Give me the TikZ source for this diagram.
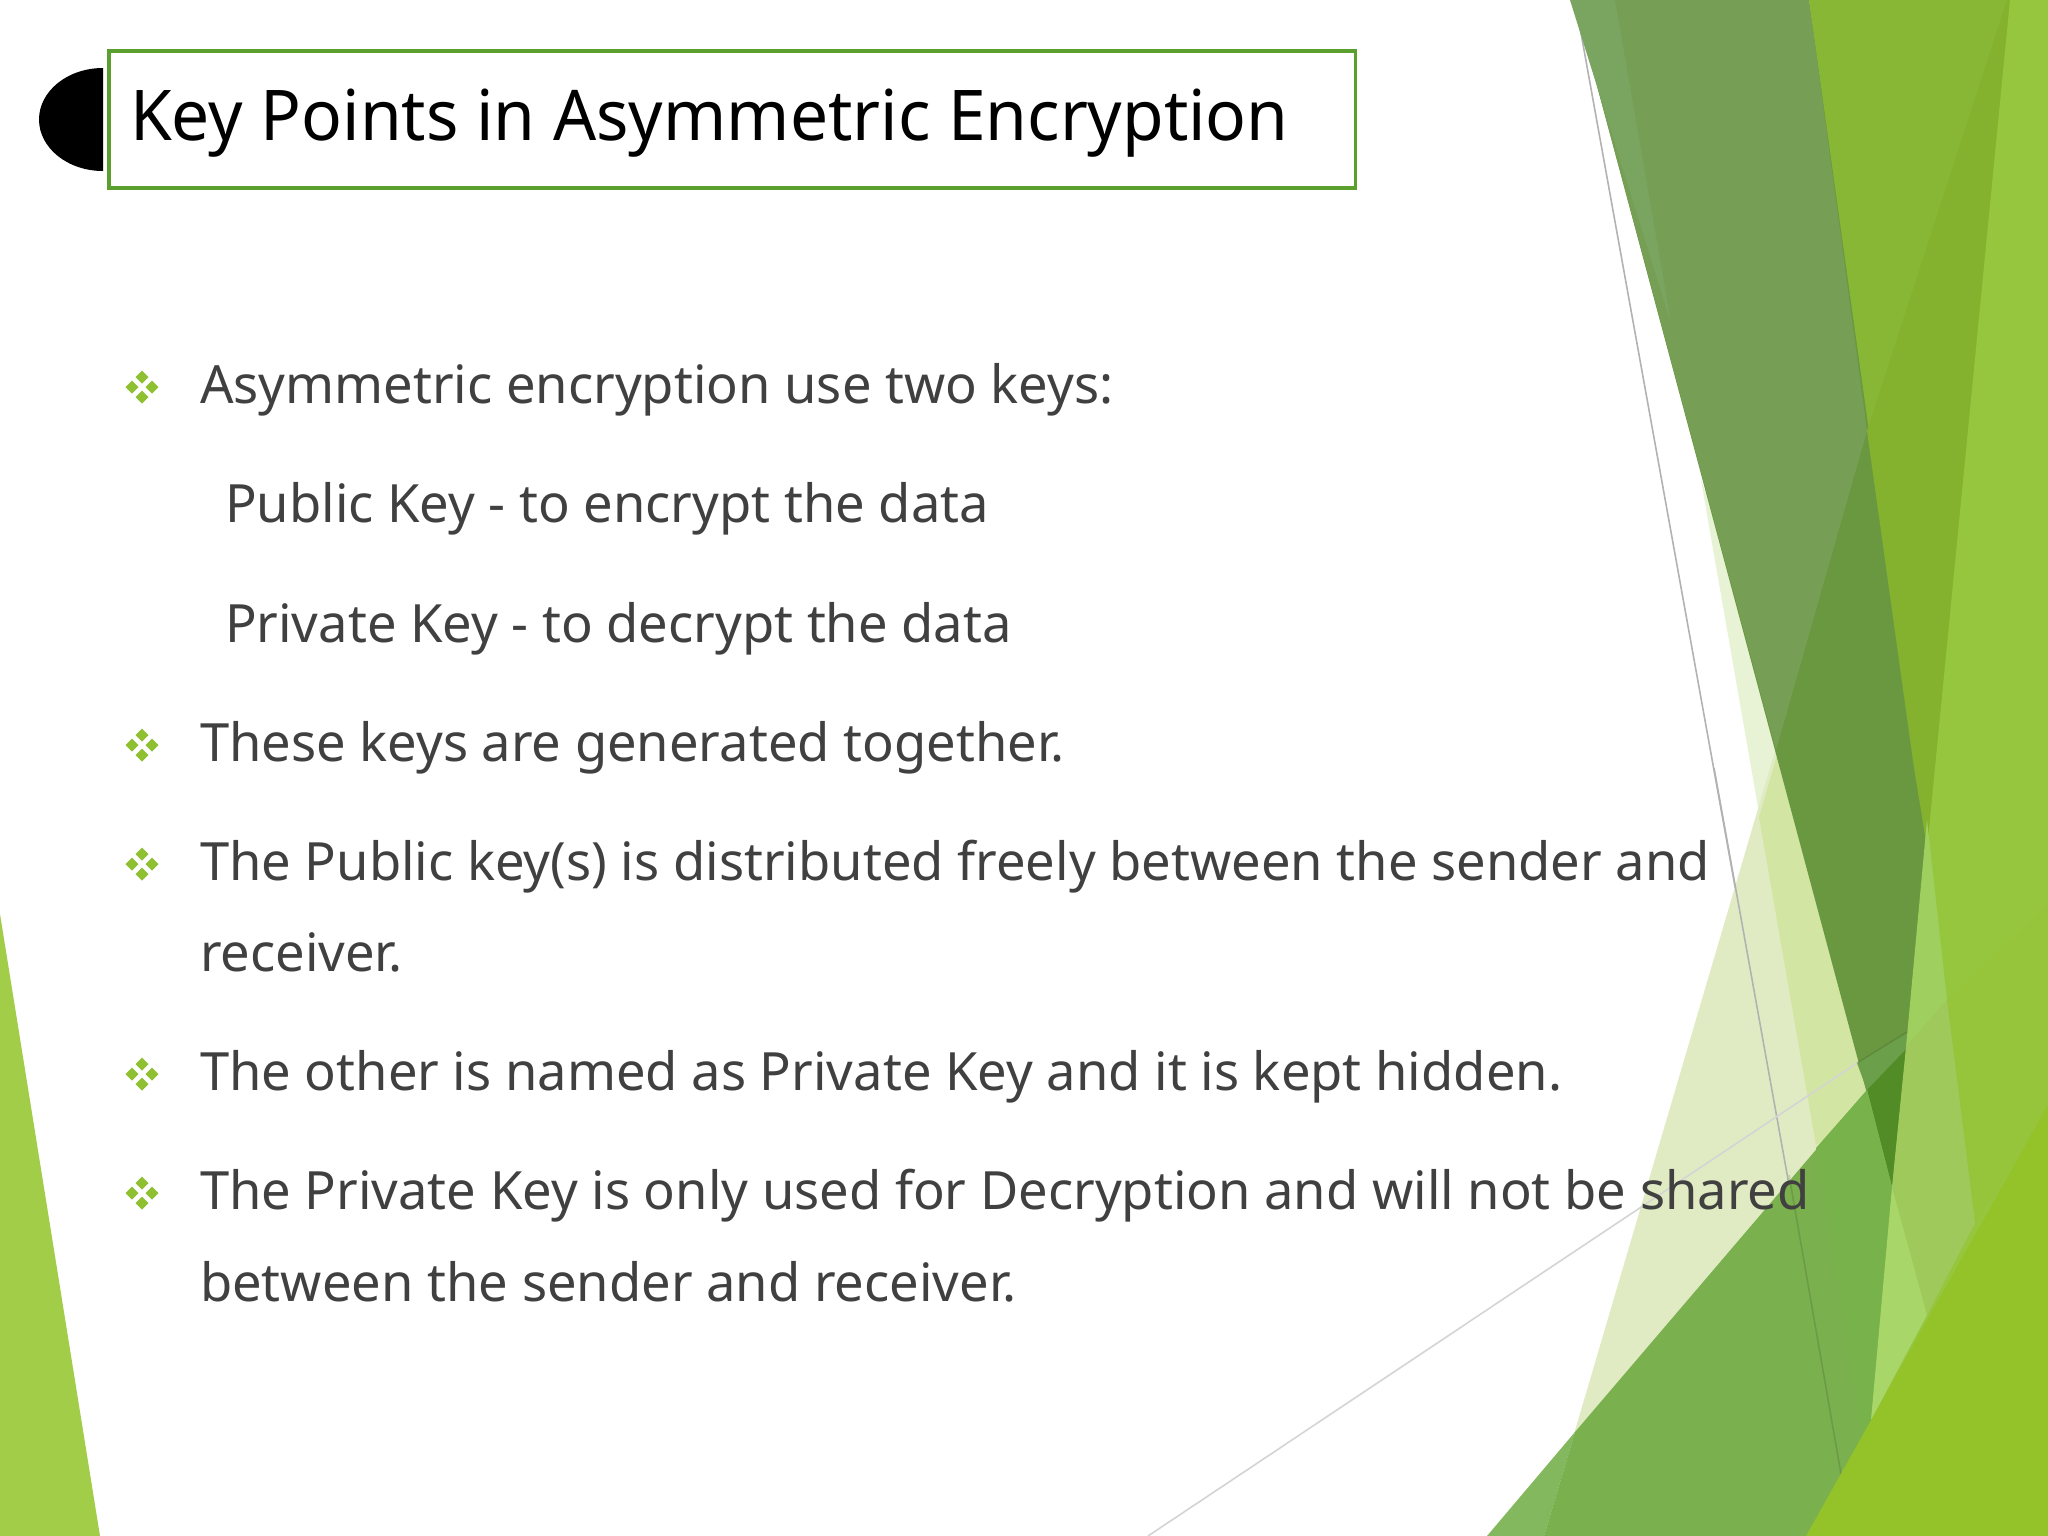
\documentclass[tikz,border=0pt]{standalone}
\usepackage{fontspec}
\setmainfont{Noto Sans}
\newfontfamily\bodyfont[FakeStretch=0.995]{Noto Sans}
\newfontfamily\titlefont[FakeStretch=0.967]{Noto Sans}
\definecolor{bodygrey}{HTML}{404040}
\definecolor{boxgreen}{HTML}{5B9F2F}
\definecolor{bul}{HTML}{8FC031}
\definecolor{leftgreen}{HTML}{A2CD48}
\definecolor{paleA}{HTML}{E8F2D5}
\definecolor{paleB}{HTML}{E0EBC3}
\definecolor{paleC}{HTML}{D2E5A3}
\definecolor{darkA}{HTML}{6A9840}
\definecolor{darkB}{HTML}{769F55}
\definecolor{darkC}{HTML}{7AA561}
\definecolor{darkD}{HTML}{6C9F4A}
\definecolor{darkest}{HTML}{518C27}
\definecolor{medA}{HTML}{88B735}
\definecolor{medB}{HTML}{84B22E}
\definecolor{greenA}{HTML}{84B85F}
\definecolor{greenB}{HTML}{7BB04F}
\definecolor{greenC}{HTML}{78B24B}
\definecolor{lightA}{HTML}{96C63E}
\definecolor{lightB}{HTML}{A0C95C}
\definecolor{lightC}{HTML}{A8D669}
\definecolor{lightD}{HTML}{96C43A}
\definecolor{lightE}{HTML}{9FCF5E}
\definecolor{brightA}{HTML}{93C229}
\tikzset{
  px/.style={x=0.01cm,y=-0.01cm},
  bodytext/.style={anchor=base west,inner sep=0,outer sep=0,text=bodygrey,font=\bodyfont\fontsize{15}{18}\selectfont},
  titletext/.style={anchor=base west,inner sep=0,outer sep=0,text=black,font=\titlefont\fontsize{19.9}{24}\selectfont},
  thinline/.style={line width=0.45pt},
}
\newcommand{\bulletmark}[2]{%
  \fill[bul] (#1,#2-16) ++(0,-16.5) -- ++(6.5,6.5) -- ++(-6.5,6.5) -- ++(-6.5,-6.5) -- cycle;
  \fill[bul] (#1,#2-16) ++(0,3.5) -- ++(6.5,6.5) -- ++(-6.5,6.5) -- ++(-6.5,-6.5) -- cycle;
  \fill[bul] (#1,#2-16) ++(-10,-6.5) -- ++(6.5,6.5) -- ++(-6.5,6.5) -- ++(-6.5,-6.5) -- cycle;
  \fill[bul] (#1,#2-16) ++(10,-6.5) -- ++(6.5,6.5) -- ++(-6.5,6.5) -- ++(-6.5,-6.5) -- cycle;
}
\begin{document}
\begin{tikzpicture}[px]
\useasboundingbox (0,0) rectangle (2048,1536);
\fill[white] (0,0) rectangle (2048,1536);
% left triangle
\fill[leftgreen] (0,914) -- (100,1536) -- (0,1536) -- cycle;
% thin grey line 1
\draw[thinline,color=black!30] (1575,0) -- (1841,1474);
% pale triangles
\fill[paleA] (1701,480) -- (1830,1220) -- (1900,1000) -- cycle;
\fill[paleB] (1790,700) -- (1900,1200) -- (1544,1536) -- cycle;
\fill[paleC] (1759,817) -- (1778,752) -- (1890,1000) -- (1890,1100) -- (1816,1145) -- cycle;
\draw[thinline,color=black!30] (1714,768) -- (1841,1474);
% dark green blade
\fill[darkA] (1574,0) -- (1809,0) -- (1940,841) -- (1900,1187) -- (1892,1187) -- cycle;
\fill[darkB] (1574,0) -- (1809,0) -- (1867,431) -- (1776,750) -- cycle;
\fill[darkC] (1570,0) -- (1615,0) -- (1671,323) -- cycle;
\fill[darkD] (1857,1063) -- (1915,1028) -- (1915,1040) -- (1867,1090) -- cycle;
% darkest overlap
\fill[darkest] (1867,1090) -- (1915,1040) -- (1900,1187) -- (1892,1187) -- cycle;
% medium top blade
\fill[medA] (1809,0) -- (2030,0) -- (1926,841) -- cycle;
\fill[medB] (2007,0) -- (2030,0) -- (1935,841) -- (1926,841) -- (1914,768) -- (1867,431) -- cycle;
% big green triangle
\fill[greenA] (1487,1536) -- (1575,1432) -- (1544,1536) -- cycle;
\fill[greenB] (1544,1536) -- (1575,1432) -- (1867,1090) -- (1892,1187) -- (1900,1187) -- (1885,1420) -- (1840,1536) -- cycle;
\fill[greenC] (1816,1148) -- (1867,1090) -- (1892,1187) -- (1900,1187) -- (1885,1420) -- (1862,1436) -- cycle;
\draw[thinline,color=black,opacity=0.12] (1789,1175) -- (1841,1474);
% right light blade
\fill[lightA] (2010,0) -- (2048,0) -- (2048,1536) -- (1860,1536) -- cycle;
\fill[lightD] (1947,1000) -- (2048,905) -- (2048,1111) -- (1975,1223) -- cycle;
\fill[lightE] (1927,820) -- (1947,1000) -- (1906,1047) -- cycle;
\fill[lightB] (1906,1047) -- (1947,1000) -- (1975,1223) -- (1927,1315) -- (1892,1187) -- cycle;
\fill[lightC] (1892,1187) -- (1927,1315) -- (1871,1420) -- cycle;
% bottom right bright triangle
\fill[brightA] (1806,1536) -- (2048,1105) -- (2048,1536) -- cycle;
% thin grey line 2
\draw[thinline,color=black!17] (1148,1536) -- (1857,1063);
\draw[thinline,color=black,opacity=0.1] (1857,1063) -- (1907,1032);
% title
\fill[black] (103,68) arc[start angle=270,end angle=90,x radius=64,y radius=51.5] -- cycle;
\node[draw=boxgreen,line width=1pt,fill=white,minimum width=12.46cm,minimum height=1.37cm,anchor=north west,inner sep=0,outer sep=0] (titlebox) at (109,51) {};
\node[titletext] (title) at (130,140) {Key Points in Asymmetric Encryption};
% body
\bulletmark{142}{403}
\node[bodytext] (l1) at (200,403) {Asymmetric encryption use two keys:};
\node[bodytext] (l2) at (225,522) {Public Key - to encrypt the data};
\node[bodytext] (l3) at (225,642) {Private Key - to decrypt the data};
\bulletmark{142}{761}
\node[bodytext] (l4) at (200,761) {These keys are generated together.};
\bulletmark{142}{880}
\node[bodytext] (l5) at (200,880) {The Public key(s) is distributed freely between the sender and};
\node[bodytext] (l6) at (200,971) {receiver.};
\bulletmark{142}{1090}
\node[bodytext] (l7) at (200,1090) {The other is named as Private Key and it is kept hidden.};
\bulletmark{142}{1209}
\node[bodytext] (l8) at (200,1209) {The Private Key is only used for Decryption and will not be shared};
\node[bodytext] (l9) at (200,1301) {between the sender and receiver.};
\end{tikzpicture}
\end{document}
